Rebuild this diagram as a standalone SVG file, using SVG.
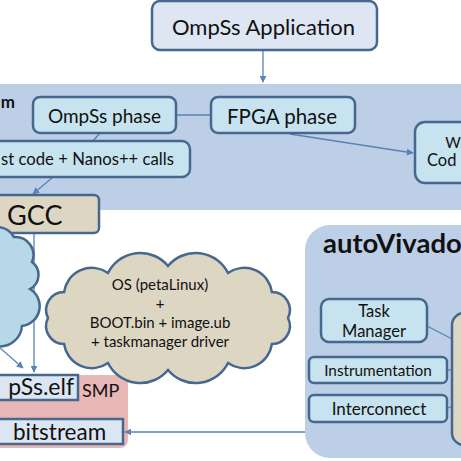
<svg xmlns="http://www.w3.org/2000/svg" width="461" height="461" viewBox="0 0 461 461">
<defs>
<style>
.t{font-family:Lato,"Open Sans","Liberation Sans",sans-serif;fill:#111;}
.box{stroke:#46688f;stroke-width:2.5;}
.cy{fill:#c6e3ef;}
.lb{fill:#dce6f2;}
.tan{fill:#ddd6c2;}
.ln{stroke:#5a82b3;stroke-width:1.3;fill:none;}
.ar{marker-end:url(#ah);}
</style>
<marker id="ah" viewBox="0 0 10 10" refX="9" refY="5" markerWidth="7" markerHeight="7" markerUnits="userSpaceOnUse" orient="auto">
<path d="M0,0 L10,5 L0,10 z" fill="#5a82b3"/>
</marker>
</defs>
<rect width="461" height="461" fill="#fff"/>
<g id="fpga-band"><rect x="-20" y="84" width="500" height="126" fill="#bccfe6"/>
<text class="t" x="15" y="108" font-size="17" font-weight="bold" text-anchor="end">m</text></g>
<g id="autovivado"><rect x="305" y="225" width="200" height="233" rx="25" fill="#bccfe6"/>
<text class="t" x="323" y="253" font-size="27.5" font-weight="bold">autoVivado</text></g>
<g id="smp"><rect x="-20" y="375" width="148" height="73" rx="8" fill="#e8b7b7"/>
<text class="t" x="82" y="397" font-size="18">SMP</text></g>
<g id="connectors">
<line class="ln ar" x1="263" y1="51" x2="263" y2="82"/>
<line class="ln" x1="176" y1="115" x2="211" y2="115"/>
<line class="ln" x1="100" y1="133" x2="93" y2="141"/>
<line class="ln ar" x1="53" y1="177" x2="33" y2="194"/>
<line class="ln ar" x1="290" y1="134" x2="413" y2="153"/>
<line class="ln ar" x1="34" y1="233" x2="34" y2="372"/>
<line class="ln ar" x1="0" y1="348" x2="23" y2="368"/>
<line class="ln ar" x1="305" y1="432" x2="125" y2="432"/>
<line class="ln" x1="427" y1="326" x2="458" y2="342"/>
<line class="ln" x1="447" y1="370" x2="461" y2="370"/>
<line class="ln" x1="447" y1="408" x2="461" y2="404"/>
</g>
<g id="ompss-app"><rect class="box" x="152" y="1" width="225" height="49" rx="8" fill="#dde6f2"/>
<text class="t" x="263.5" y="35" font-size="22" text-anchor="middle">OmpSs Application</text></g>
<g id="ompss-phase"><rect class="box cy" x="33" y="97" width="143" height="36" rx="7"/>
<text class="t" x="104.5" y="123" font-size="19" text-anchor="middle">OmpSs phase</text></g>
<g id="fpga-phase"><rect class="box cy" x="211" y="97" width="144" height="36" rx="7"/>
<text class="t" x="282" y="124" font-size="20.5" text-anchor="middle">FPGA phase</text></g>
<g id="host-code"><rect class="box cy" x="-20" y="141" width="210" height="36" rx="8"/>
<text class="t" x="1" y="165" font-size="16.7">st code + Nanos++ calls</text></g>
<g id="wrapper"><rect class="box cy" x="415" y="122" width="70" height="61" rx="10"/>
<text class="t" x="453" y="148" font-size="15" text-anchor="middle">W</text>
<text class="t" x="427" y="166" font-size="16.5">Cod</text></g>
<g id="gcc"><rect class="box tan" x="-10" y="195" width="109" height="38" rx="5"/>
<text class="t" x="7" y="225" font-size="27">GCC</text></g>
<g id="left-cloud"><path class="box" fill="#b6d8e9" d="M -20 236 A 20 20 0 0 1 14 237 A 18 18 0 0 1 32 262 A 16 16 0 0 1 30 289 A 20 20 0 0 1 22 326 A 22 22 0 0 1 -4 346 L -20 346 Z"/></g>
<g id="os-cloud"><path class="box tan" d="M 288 318 A 18 18 0 0 1 271.9 344 A 28 28 0 0 1 228 363 A 36 36 0 0 1 168 370 A 36 36 0 0 1 108 363 A 28 28 0 0 1 64.1 344 A 18 18 0 0 1 48 318 A 18 18 0 0 1 64.1 292 A 28 28 0 0 1 108 273 A 36 36 0 0 1 168 266 A 36 36 0 0 1 228 273 A 28 28 0 0 1 271.9 292 A 18 18 0 0 1 288 318 Z"/>
<text class="t" x="160" y="290" font-size="15" text-anchor="middle">OS (petaLinux)</text>
<text class="t" x="160" y="309" font-size="15" text-anchor="middle">+</text>
<text class="t" x="160" y="328" font-size="15" text-anchor="middle">BOOT.bin + image.ub</text>
<text class="t" x="160" y="347" font-size="15" text-anchor="middle">+ taskmanager driver</text></g>
<g id="elf"><rect class="box lb" x="-10" y="375" width="88" height="25"/>
<text class="t" x="74" y="395" font-size="23" text-anchor="end">pSs.elf</text></g>
<g id="bitstream"><rect class="box lb" x="-10" y="419" width="133" height="25"/>
<text class="t" x="13" y="440" font-size="22.5">bitstream</text></g>
<g id="task-manager"><rect class="box cy" x="321" y="299" width="106" height="43" rx="8"/>
<text class="t" x="374" y="317" font-size="16.5" text-anchor="middle">Task</text>
<text class="t" x="374" y="337" font-size="16.5" text-anchor="middle">Manager</text></g>
<g id="instrumentation"><rect class="box cy" x="309" y="357" width="138" height="26" rx="5"/>
<text class="t" x="378" y="376" font-size="15.3" text-anchor="middle">Instrumentation</text></g>
<g id="interconnect"><rect class="box cy" x="309" y="395" width="138" height="27" rx="5"/>
<text class="t" x="379" y="414.5" font-size="17" text-anchor="middle">Interconnect</text></g>
<g id="hw-block"><rect class="box tan" x="452" y="313" width="40" height="132" rx="12"/></g>
</svg>
